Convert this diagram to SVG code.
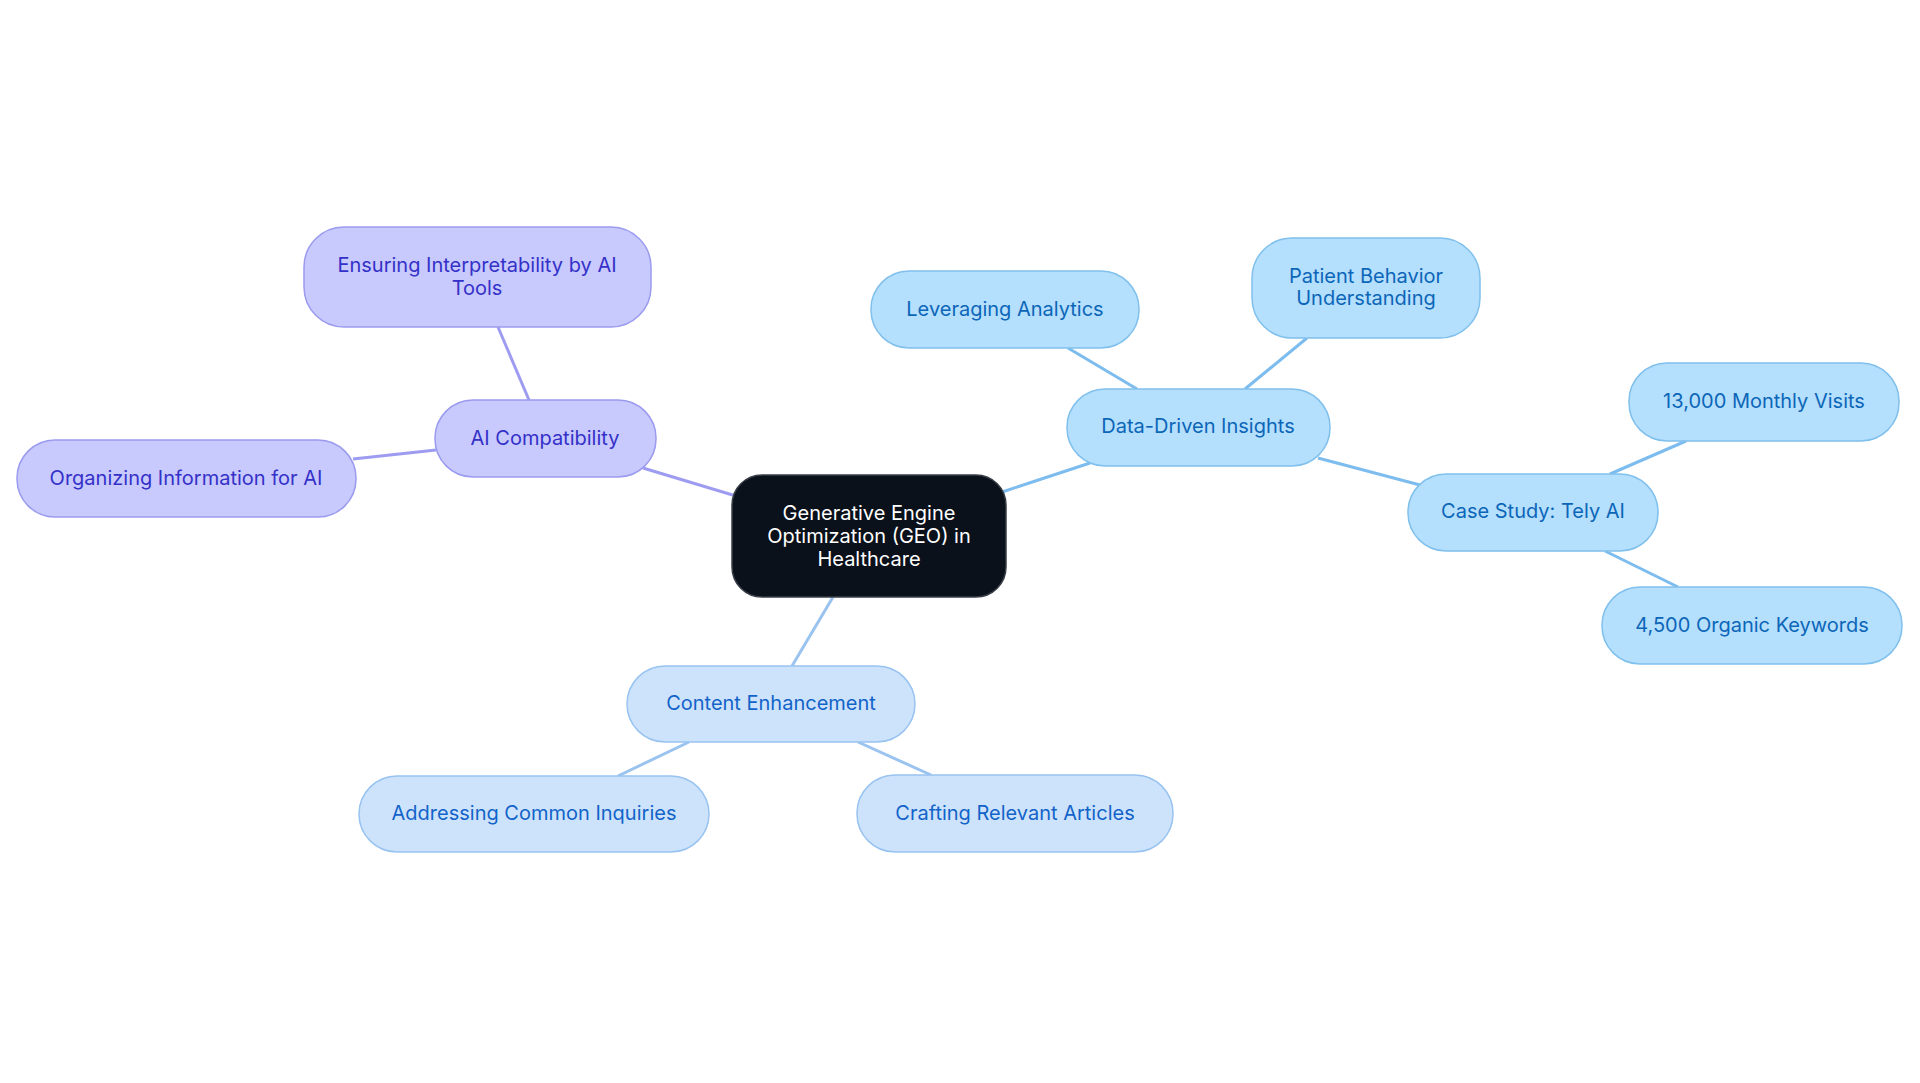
<svg xmlns="http://www.w3.org/2000/svg" width="1920" height="1083" viewBox="0 0 1920 1083">
<style>
text{font-family:Inter,"Noto Sans","Liberation Sans",sans-serif;font-size:20px;text-anchor:middle}
.p rect{fill:#c8c9fc;stroke:#9a9bef;stroke-width:1.5}
.p text{fill:#3431c9}
.b rect{fill:#b4dffd;stroke:#80c0ec;stroke-width:1.5}
.b text{fill:#0c66b8}
.c rect{fill:#cde3fb;stroke:#98c3f1;stroke-width:1.5}
.c text{fill:#1263c9}
.lp{stroke:#9d9cf1;stroke-width:3;fill:none}
.lb{stroke:#7cbcee;stroke-width:3;fill:none}
.lc{stroke:#9ac3f0;stroke-width:3;fill:none}
</style>
<rect width="1920" height="1083" fill="#ffffff"/>
<g id="connectors">
<line class="lp" x1="643" y1="468" x2="736" y2="496"/>
<line class="lp" x1="498" y1="327" x2="529" y2="400"/>
<line class="lp" x1="353" y1="459" x2="436" y2="450"/>
<line class="lb" x1="1002" y1="492" x2="1090" y2="463"/>
<line class="lb" x1="1068" y1="348" x2="1137" y2="389"/>
<line class="lb" x1="1307" y1="338" x2="1245" y2="389"/>
<line class="lb" x1="1318" y1="458" x2="1420" y2="485"/>
<line class="lb" x1="1610" y1="474" x2="1686" y2="441"/>
<line class="lb" x1="1605" y1="551" x2="1678" y2="587"/>
<line class="lc" x1="833" y1="597" x2="792" y2="666"/>
<line class="lc" x1="689" y1="742" x2="618" y2="776"/>
<line class="lc" x1="858" y1="742" x2="931" y2="775"/>
</g>
<g id="center">
<rect x="732" y="475" width="274" height="122" rx="30" fill="#0b111b" stroke="#3a3f47" stroke-width="1.5"/>
<text x="869" y="520" fill="#ffffff">Generative Engine</text>
<text x="869" y="543" fill="#ffffff">Optimization (GEO) in</text>
<text x="869" y="566" fill="#ffffff">Healthcare</text>
</g>
<g id="ai-compat" class="p">
<rect x="435" y="400" width="221" height="77" rx="38"/>
<text x="545" y="445">AI Compatibility</text>
</g>
<g id="ensuring" class="p">
<rect x="304" y="227" width="347" height="100" rx="40"/>
<text x="477" y="272">Ensuring Interpretability by AI</text>
<text x="477" y="295">Tools</text>
</g>
<g id="organizing" class="p">
<rect x="17" y="440" width="339" height="77" rx="38"/>
<text x="186" y="485">Organizing Information for AI</text>
</g>
<g id="data-driven" class="b">
<rect x="1067" y="389" width="263" height="77" rx="38"/>
<text x="1198" y="433">Data-Driven Insights</text>
</g>
<g id="leveraging" class="b">
<rect x="871" y="271" width="268" height="77" rx="38"/>
<text x="1005" y="316">Leveraging Analytics</text>
</g>
<g id="patient" class="b">
<rect x="1252" y="238" width="228" height="100" rx="40"/>
<text x="1366" y="283">Patient Behavior</text>
<text x="1366" y="305">Understanding</text>
</g>
<g id="case-study" class="b">
<rect x="1408" y="474" width="250" height="77" rx="38"/>
<text x="1533" y="518">Case Study: Tely AI</text>
</g>
<g id="visits" class="b">
<rect x="1629" y="363" width="270" height="78" rx="38"/>
<text x="1764" y="408">13,000 Monthly Visits</text>
</g>
<g id="keywords" class="b">
<rect x="1602" y="587" width="300" height="77" rx="38"/>
<text x="1752" y="632">4,500 Organic Keywords</text>
</g>
<g id="content" class="c">
<rect x="627" y="666" width="288" height="76" rx="38"/>
<text x="771" y="710">Content Enhancement</text>
</g>
<g id="addressing" class="c">
<rect x="359" y="776" width="350" height="76" rx="38"/>
<text x="534" y="820">Addressing Common Inquiries</text>
</g>
<g id="crafting" class="c">
<rect x="857" y="775" width="316" height="77" rx="38"/>
<text x="1015" y="820">Crafting Relevant Articles</text>
</g>
</svg>
